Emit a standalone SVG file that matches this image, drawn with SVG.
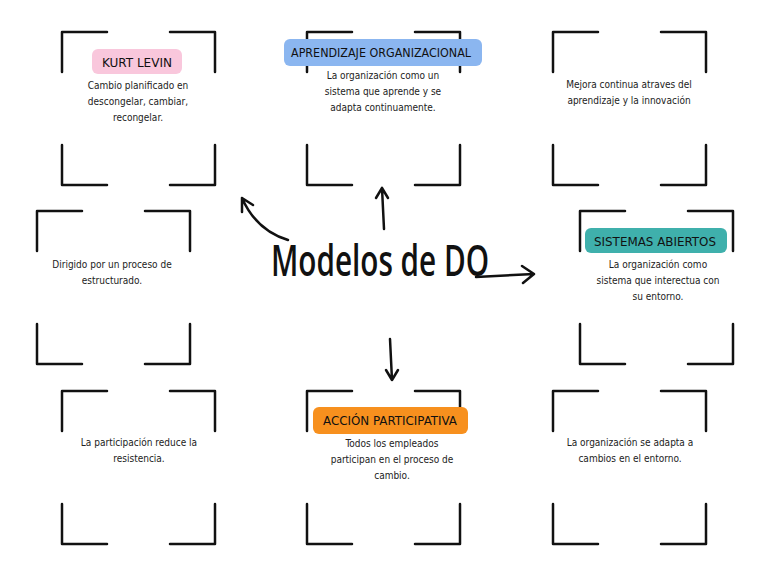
<svg xmlns="http://www.w3.org/2000/svg" width="768" height="576" viewBox="0 0 768 576">
<style>
.b{fill:none;stroke:#111;stroke-width:2.5;stroke-linecap:round}
.t{font-family:"DejaVu Sans Condensed","DejaVu Sans",sans-serif;font-size:10px;fill:#222;text-anchor:middle}
.h{font-family:"DejaVu Sans Condensed","DejaVu Sans",sans-serif;font-size:13px;fill:#111;text-anchor:middle}
.a{fill:none;stroke:#111;stroke-width:2.5;stroke-linecap:round;stroke-linejoin:round}
</style>
<defs>
<g id="fr">
<path class="b" d="M0,0 v40 M0,0 h45 M153,0 h-45 M153,0 v40 M0,153 v-40 M0,153 h45 M153,153 h-45 M153,153 v-40"/>
</g>
</defs>
<rect width="768" height="576" fill="#fff"/>
<g id="frames">
<use href="#fr" x="62" y="32"/>
<use href="#fr" x="307" y="32"/>
<use href="#fr" x="553" y="32"/>
<use href="#fr" x="37" y="211"/>
<use href="#fr" x="580" y="211"/>
<use href="#fr" x="62" y="391"/>
<use href="#fr" x="307" y="391"/>
<use href="#fr" x="553" y="391"/>
</g>
<g id="kurt">
<rect x="92" y="49" width="90" height="25" rx="6" fill="#f9c7dc"/>
<text class="h" x="137" y="67" textLength="70" lengthAdjust="spacingAndGlyphs">KURT LEVIN</text>
<text class="t" x="138" y="89">Cambio planificado en</text>
<text class="t" x="138" y="105">descongelar, cambiar,</text>
<text class="t" x="138" y="121">recongelar.</text>
</g>
<g id="aprendizaje">
<rect x="284" y="39" width="198" height="27" rx="6" fill="#8bb6f0"/>
<text class="h" x="381" y="57" textLength="180" lengthAdjust="spacingAndGlyphs">APRENDIZAJE ORGANIZACIONAL</text>
<text class="t" x="383" y="79">La organización como un</text>
<text class="t" x="383" y="95">sistema que aprende y se</text>
<text class="t" x="383" y="111">adapta continuamente.</text>
</g>
<g id="mejora">
<text class="t" x="629" y="88">Mejora continua atraves del</text>
<text class="t" x="629" y="104">aprendizaje y la innovación</text>
</g>
<g id="dirigido">
<text class="t" x="112" y="268">Dirigido por un proceso de</text>
<text class="t" x="112" y="284">estructurado.</text>
</g>
<g id="sistemas">
<rect x="585" y="228" width="142" height="25" rx="6" fill="#3fb0ac"/>
<text class="h" x="655" y="246" textLength="122" lengthAdjust="spacingAndGlyphs">SISTEMAS ABIERTOS</text>
<text class="t" x="658" y="268">La organización como</text>
<text class="t" x="658" y="284">sistema que interectua con</text>
<text class="t" x="658" y="300">su entorno.</text>
</g>
<g id="participacion">
<text class="t" x="139" y="446">La participación reduce la</text>
<text class="t" x="139" y="462">resistencia.</text>
</g>
<g id="accion">
<rect x="313" y="407" width="155" height="27" rx="6" fill="#f7901e"/>
<text class="h" x="390" y="425" textLength="134" lengthAdjust="spacingAndGlyphs">ACCIÓN PARTICIPATIVA</text>
<text class="t" x="392" y="447">Todos los empleados</text>
<text class="t" x="392" y="463">participan en el proceso de</text>
<text class="t" x="392" y="479">cambio.</text>
</g>
<g id="entorno">
<text class="t" x="630" y="446">La organización se adapta a</text>
<text class="t" x="630" y="462">cambios en el entorno.</text>
</g>
<g id="center">
<text x="380" y="276" font-family="'Open Sans',sans-serif" font-size="44" font-weight="600" fill="#111" text-anchor="middle" textLength="218" lengthAdjust="spacingAndGlyphs">Modelos de DO</text>
</g>
<g id="connectors">
<path class="a" d="M288,240 Q256,230 242,198 M242,198 l0,14 M242,198 l11,7"/>
<path class="a" d="M384,229 L382,188 M382,188 l-6,10 M382,188 l6,10"/>
<path class="a" d="M476,277 L534,274 M534,274 l-12,-8 M534,274 l-11,9"/>
<path class="a" d="M390,339 L392,380 M392,380 l-6,-10 M392,380 l6,-10"/>
</g>
</svg>
